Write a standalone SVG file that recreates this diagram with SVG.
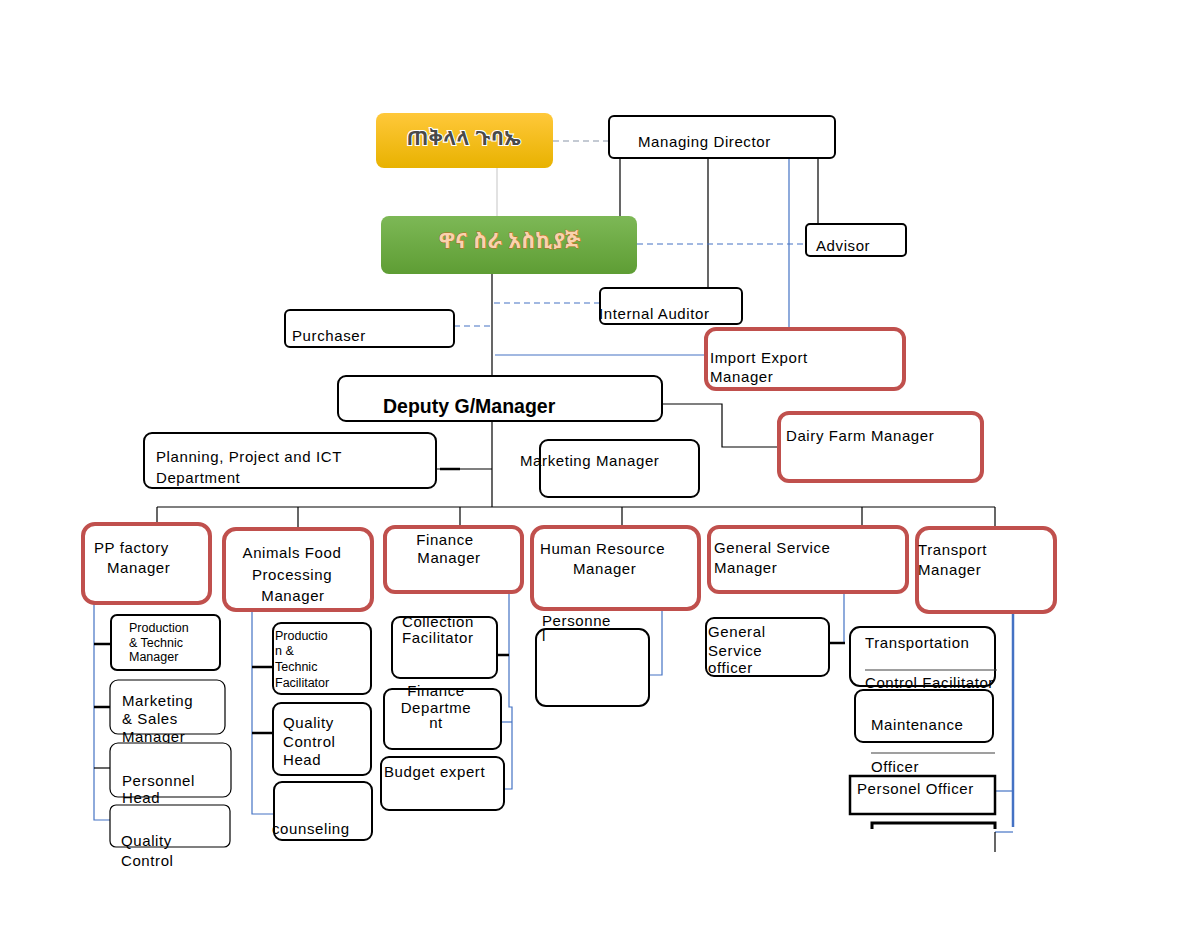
<svg xmlns="http://www.w3.org/2000/svg" width="1200" height="927" viewBox="0 0 1200 927">
<defs>
<linearGradient id="gy" x1="0" y1="0" x2="0" y2="1"><stop offset="0" stop-color="#FFC83A"/><stop offset="1" stop-color="#E8B200"/></linearGradient>
<linearGradient id="gg" x1="0" y1="0" x2="0" y2="1"><stop offset="0" stop-color="#7DB856"/><stop offset="1" stop-color="#5E9D34"/></linearGradient>
</defs>
<style>
text{font-family:"Liberation Sans",Arial,sans-serif;font-size:15px;fill:#000;letter-spacing:0.6px}
.bx{fill:#fff;stroke:#000;stroke-width:2}
.thin{fill:#fff;stroke:#000;stroke-width:1.2}
.red{fill:#fff;stroke:#C0504D;stroke-width:4}
.k{stroke:#000;stroke-width:1.2;fill:none}
.kb{stroke:#000;stroke-width:2.5;fill:none}
.b{stroke:#4472C4;stroke-width:1.2;fill:none}
.bd{stroke:#4472C4;stroke-width:1.2;fill:none;stroke-dasharray:6 4}
.gd{stroke:#8A96A8;stroke-width:1.2;fill:none;stroke-dasharray:6 4}
.eth{font-family:"Noto Sans Ethiopic","Abyssinica SIL","DejaVu Sans",sans-serif;font-weight:bold;letter-spacing:0.5px;paint-order:stroke}
.ey{font-size:20px;fill:#4A4A4A;stroke:#FFFFFF;stroke-width:2.2}
.eg{font-size:21px;fill:#FAD2AE;stroke:#C0651F;stroke-width:0.8}
.sm{font-size:12.5px;letter-spacing:0}
.dep{font-size:19.5px;font-weight:bold;letter-spacing:0}
</style>
<g id="connectors">
<line class="gd" x1="553" y1="141" x2="609" y2="141"/>
<line x1="497" y1="168" x2="497" y2="216" stroke="#D9D9D9" stroke-width="1.5"/>
<line class="k" x1="620" y1="158" x2="620" y2="216"/>
<line class="k" x1="708" y1="158" x2="708" y2="288"/>
<line class="k" x1="818" y1="158" x2="818" y2="224"/>
<line class="b" x1="789" y1="158" x2="789" y2="329"/>
<line class="bd" x1="637" y1="244" x2="806" y2="244"/>
<line class="k" x1="492" y1="274" x2="492" y2="507"/>
<line class="bd" x1="494" y1="303" x2="600" y2="303"/>
<line class="bd" x1="454" y1="326" x2="494" y2="326"/>
<line class="b" x1="495" y1="355" x2="706" y2="355"/>
<polyline class="k" points="662,404 722,404 722,447 779,447"/>
<line class="k" x1="436" y1="469" x2="492" y2="469"/>
<line class="kb" x1="440" y1="469" x2="460" y2="469"/>
<line class="k" x1="157" y1="507" x2="995" y2="507"/>
<line class="k" x1="157" y1="507" x2="157" y2="524" stroke-width="2"/>
<line class="k" x1="298" y1="507" x2="298" y2="529" stroke-width="2"/>
<line class="k" x1="460" y1="507" x2="460" y2="527" stroke-width="2"/>
<line class="k" x1="622" y1="507" x2="622" y2="527" stroke-width="2"/>
<line class="k" x1="862" y1="507" x2="862" y2="527" stroke-width="2"/>
<line class="k" x1="995" y1="507" x2="995" y2="528" stroke-width="2"/>
<polyline class="b" points="94,603 94,820 110,820"/>
<line class="kb" x1="94" y1="644" x2="111" y2="644"/>
<line class="kb" x1="94" y1="707" x2="110" y2="707"/>
<line class="k" x1="94" y1="768" x2="110" y2="768"/>
<polyline class="b" points="252,610 252,814 274,814"/>
<line class="kb" x1="252" y1="667" x2="273" y2="667"/>
<line class="kb" x1="252" y1="733" x2="273" y2="733"/>
<polyline class="b" points="509,592 509,707 512,707 512,789 505,789"/>
<line class="kb" x1="497" y1="655" x2="509" y2="655"/>
<line class="b" x1="501" y1="722" x2="512" y2="722"/>
<polyline class="b" points="662,609 662,675 649,675"/>
<polyline class="b" points="844,592 844,643"/>
<line class="kb" x1="829" y1="643" x2="845" y2="643"/>
<line x1="1013" y1="612" x2="1013" y2="827" stroke="#4472C4" stroke-width="2.5"/>
<line class="b" x1="995" y1="791" x2="1013" y2="791"/>
<line class="b" x1="995" y1="832" x2="1013" y2="832"/>
<line class="k" x1="995" y1="832" x2="995" y2="852"/>
</g>
<g id="general-assembly">
<rect x="376" y="113" width="177" height="55" rx="8" fill="url(#gy)"/>
<text class="eth ey" x="464" y="145" text-anchor="middle">ጠቅላላ ጉባኤ</text>
</g>
<g id="managing-director">
<rect class="bx" x="609" y="116" width="226" height="42" rx="5"/>
<text x="638" y="147">Managing Director</text>
</g>
<g id="general-manager">
<rect x="381" y="216" width="256" height="58" rx="8" fill="url(#gg)"/>
<text class="eth eg" x="510" y="248" text-anchor="middle">ዋና ስራ አስኪያጅ</text>
</g>
<g id="advisor">
<rect class="bx" x="806" y="224" width="100" height="32" rx="4"/>
<text x="816" y="251">Advisor</text>
</g>
<g id="internal-auditor">
<rect class="bx" x="600" y="288" width="142" height="36" rx="5"/>
<text x="599" y="319">Internal Auditor</text>
</g>
<g id="purchaser">
<rect class="bx" x="285" y="310" width="169" height="37" rx="5"/>
<text x="292" y="341">Purchaser</text>
</g>
<g id="import-export">
<rect class="red" x="706" y="329" width="198" height="60" rx="10"/>
<text x="710" y="363">Import Export</text>
<text x="710" y="382">Manager</text>
</g>
<g id="deputy">
<rect class="bx" x="338" y="376" width="324" height="45" rx="8"/>
<text class="dep" x="383" y="413">Deputy G/Manager</text>
</g>
<g id="dairy-farm">
<rect class="red" x="779" y="413" width="203" height="68" rx="10"/>
<text x="786" y="441">Dairy Farm Manager</text>
</g>
<g id="planning">
<rect class="bx" x="144" y="433" width="292" height="55" rx="8"/>
<text x="156" y="462">Planning, Project and ICT</text>
<text x="156" y="483">Department</text>
</g>
<g id="marketing-manager">
<rect class="bx" x="540" y="440" width="159" height="57" rx="8"/>
<text x="520" y="466">Marketing Manager</text>
</g>
<g id="pp-factory">
<rect class="red" x="83" y="524" width="127" height="79" rx="12"/>
<text x="94" y="553">PP factory</text>
<text x="107" y="573">Manager</text>
</g>
<g id="animals-food">
<rect class="red" x="224" y="529" width="148" height="81" rx="12"/>
<text x="292" y="558" text-anchor="middle">Animals Food</text>
<text x="292" y="580" text-anchor="middle">Processing</text>
<text x="293" y="601" text-anchor="middle">Manager</text>
</g>
<g id="finance">
<rect class="red" x="385" y="527" width="137" height="65" rx="10"/>
<text x="445" y="545" text-anchor="middle">Finance</text>
<text x="449" y="563" text-anchor="middle">Manager</text>
</g>
<g id="human-resource">
<rect class="red" x="532" y="527" width="167" height="82" rx="12"/>
<text x="540" y="554">Human Resource</text>
<text x="573" y="574">Manager</text>
</g>
<g id="general-service">
<rect class="red" x="709" y="527" width="198" height="65" rx="10"/>
<text x="714" y="553">General Service</text>
<text x="714" y="573">Manager</text>
</g>
<g id="transport">
<rect class="red" x="917" y="528" width="138" height="84" rx="12"/>
<text x="918" y="555">Transport</text>
<text x="918" y="575">Manager</text>
</g>
<g id="production-technic-manager">
<rect class="bx" x="111" y="615" width="109" height="55" rx="6" stroke-width="2.5"/>
<text class="sm" x="129" y="632">Production</text>
<text class="sm" x="129" y="647">&amp; Technic</text>
<text class="sm" x="129" y="661">Manager</text>
</g>
<g id="marketing-sales">
<rect class="thin" x="110" y="680" width="115" height="54" rx="8"/>
<text x="122" y="706">Marketing</text>
<text x="122" y="724">&amp; Sales</text>
<text x="122" y="742">Manager</text>
</g>
<g id="personnel-head">
<rect class="thin" x="110" y="743" width="121" height="54" rx="8"/>
<text x="122" y="786">Personnel</text>
<text x="122" y="803">Head</text>
</g>
<g id="quality-control">
<rect class="thin" x="110" y="805" width="120" height="42" rx="6"/>
<text x="121" y="846">Quality</text>
<text x="121" y="866">Control</text>
</g>
<g id="production-technic-facilitator">
<rect class="bx" x="273" y="623" width="98" height="71" rx="8"/>
<text class="sm" x="275" y="640">Productio</text>
<text class="sm" x="275" y="655">n &amp;</text>
<text class="sm" x="275" y="671">Technic</text>
<text class="sm" x="275" y="687">Facilitator</text>
</g>
<g id="quality-control-head">
<rect class="bx" x="273" y="703" width="98" height="72" rx="8"/>
<text x="283" y="728">Quality</text>
<text x="283" y="747">Control</text>
<text x="283" y="765">Head</text>
</g>
<g id="counseling">
<rect class="bx" x="274" y="782" width="98" height="58" rx="8"/>
<text x="272" y="834">counseling</text>
</g>
<g id="collection-facilitator">
<rect class="bx" x="392" y="617" width="105" height="61" rx="8"/>
<text x="402" y="627">Collection</text>
<text x="402" y="643">Facilitator</text>
</g>
<g id="finance-department">
<rect class="bx" x="384" y="689" width="117" height="60" rx="8"/>
<text x="436" y="696" text-anchor="middle">Finance</text>
<text x="436" y="713" text-anchor="middle">Departme</text>
<text x="436" y="728" text-anchor="middle">nt</text>
</g>
<g id="budget-expert">
<rect class="bx" x="381" y="757" width="123" height="53" rx="8"/>
<text x="384" y="777">Budget expert</text>
</g>
<g id="personnel">
<rect class="bx" x="536" y="629" width="113" height="77" rx="10"/>
<text x="542" y="626">Personne</text>
<text x="542" y="641">l</text>
</g>
<g id="general-service-officer">
<rect class="bx" x="706" y="618" width="123" height="58" rx="8"/>
<text x="708" y="637">General</text>
<text x="708" y="656">Service</text>
<text x="708" y="673">officer</text>
</g>
<g id="transportation-control">
<rect class="bx" x="850" y="627" width="145" height="59" rx="10"/>
<text x="865" y="648">Transportation</text>
<line x1="865" y1="670" x2="997" y2="670" stroke="#404040" stroke-width="1.2"/>
<text x="865" y="688">Control Facilitator</text>
</g>
<g id="maintenance">
<rect class="bx" x="855" y="690" width="138" height="52" rx="8"/>
<text x="871" y="730">Maintenance</text>
<line x1="871" y1="753" x2="995" y2="753" stroke="#404040" stroke-width="1.2"/>
<text x="871" y="772">Officer</text>
</g>
<g id="personel-officer">
<rect x="850" y="776" width="145" height="38" fill="#fff" stroke="#000" stroke-width="2.5"/>
<text x="857" y="794">Personel Officer</text>
</g>
<g id="unlabeled-box">
<path d="M872,829 L872,823 L995,823 L995,829" fill="none" stroke="#000" stroke-width="3"/>
</g>
</svg>
